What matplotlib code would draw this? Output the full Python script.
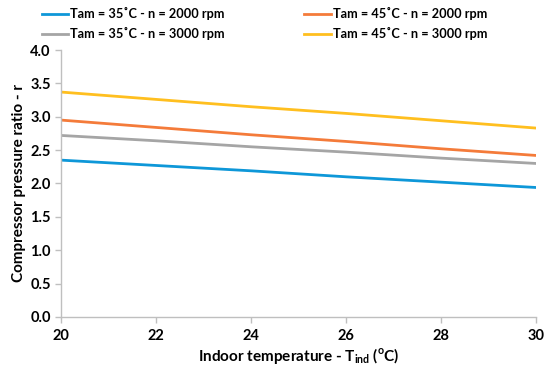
import numpy as np
import matplotlib.pyplot as plt

t_ind = [20, 22, 24, 26, 28, 30]
r_35_2000 = [2.35, 2.27, 2.19, 2.10, 2.02, 1.94]
r_45_2000 = [2.95, 2.84, 2.73, 2.63, 2.52, 2.42]
r_35_3000 = [2.72, 2.64, 2.55, 2.47, 2.38, 2.30]
r_45_3000 = [3.37, 3.26, 3.15, 3.05, 2.94, 2.83]

labels = ["Tam = 35˚C - n = 2000 rpm", "Tam = 45˚C - n = 2000 rpm",
          "Tam = 35˚C - n = 3000 rpm", "Tam = 45˚C - n = 3000 rpm"]
colors = ["#0E97D8", "#F47B3A", "#A5A5A5", "#FFBF1F"]

plt.rcParams['font.family'] = ['Lato', 'DejaVu Sans']
plt.rcParams['font.weight'] = 'bold'


def main():
    fig = plt.figure(figsize=(5.5, 3.71), dpi=100)
    ax = fig.add_axes([0.111, 0.1456, 0.864, 0.7196])

    series = [r_35_2000, r_45_2000, r_35_3000, r_45_3000]
    lines = []
    for y, lab, c in zip(series, labels, colors):
        ln, = ax.plot(t_ind, y, color=c, linewidth=2, label=lab)
        lines.append(ln)

    ax.set_xlim(20, 30)
    ax.set_ylim(0, 4)
    ax.set_xticks(np.arange(20, 31, 2))
    ax.set_yticks(np.arange(0, 4.01, 0.5))
    ax.yaxis.set_major_formatter(plt.FormatStrFormatter('%.1f'))

    for s in ['top', 'right']:
        ax.spines[s].set_visible(False)
    for s in ['left', 'bottom']:
        ax.spines[s].set_color('#BFBFBF')
        ax.spines[s].set_linewidth(1)
    ax.tick_params(direction='out', length=4, color='#BFBFBF', labelsize=10.5,
                   labelcolor='black', width=1)
    ax.tick_params(axis='x', pad=5)

    ax.set_xlabel("Indoor temperature - T$_{\\mathregular{ind}}$ ($^{\\mathregular{o}}$C)",
                  fontsize=11, fontweight='bold', labelpad=2)
    ax.set_ylabel("Compressor pressure ratio - r", fontsize=11, fontweight='bold', labelpad=3)

    # legend is filled column first, so reorder to get rows 2000 / 3000
    order = [0, 2, 1, 3]
    fig.legend([lines[i] for i in order], [labels[i] for i in order],
               loc='upper left', bbox_to_anchor=(42 / 550, 1 - 7 / 371),
               bbox_transform=fig.transFigure, ncol=2, frameon=False,
               fontsize=9.2, handlelength=2.05, handletextpad=0.18, columnspacing=6.2,
               labelspacing=0.55, borderaxespad=0, borderpad=0)

    fig.savefig('out.png', dpi=100)


if __name__ == '__main__':
    main()
